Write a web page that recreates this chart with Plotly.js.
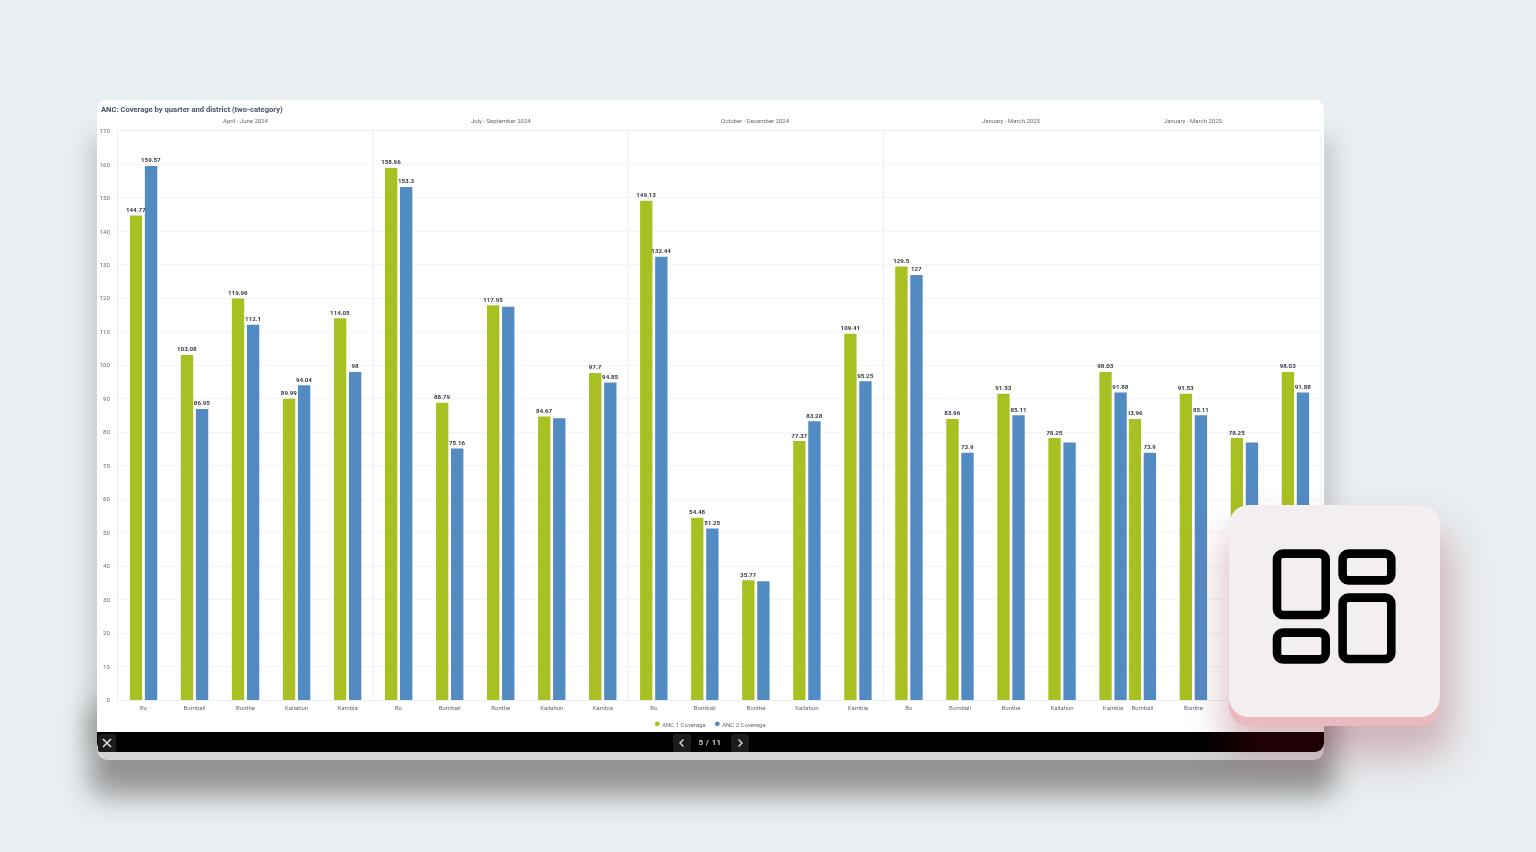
<!DOCTYPE html>
<html><head><meta charset="utf-8">
<script src="https://cdn.plot.ly/plotly-3.0.1.min.js"></script>
<style>
html,body{margin:0;padding:0;width:1536px;height:852px;overflow:hidden;background:#e9eef1;font-family:Roboto,sans-serif}
#softSide{position:absolute;left:88px;top:135px;width:1247px;height:610px;border-radius:14px;background:rgba(135,135,135,.32);filter:blur(10px)}
#softBottom{position:absolute;left:90px;top:705px;width:1245px;height:90px;border-radius:14px;background:rgba(120,120,120,.78);filter:blur(14px)}
#band{position:absolute;left:97px;top:735px;width:1227px;height:25px;border-radius:10px;background:#d2d4d5}
#card{position:absolute;left:97px;top:100px;width:1227px;height:652px;border-radius:9px;background:#fff;overflow:hidden}
#chart{position:absolute;left:0;top:0;width:1536px;height:852px;filter:blur(.45px)}
#bar{position:absolute;left:97px;top:732px;width:1227px;height:20px;background:linear-gradient(90deg,#000 90%,#1f0005 95%);border-radius:0 0 9px 9px;color:#ddd;filter:blur(.25px);z-index:3}
.btn{position:absolute;top:2px;width:18px;height:18px;background:#1c1c1c;border-radius:2px}
.btn svg{position:absolute;left:4px;top:4px}
#pg{position:absolute;left:583px;width:60px;top:0;line-height:21px;text-align:center;font-size:8px;font-weight:500;letter-spacing:.4px;color:#e4e4e4}
#tile{position:absolute;left:1229px;top:505px;width:211px;height:212px;border-radius:20px;background:#f3eff1;box-shadow:0 9px 0 #ebb9c0,3px 32px 38px 8px rgba(170,100,112,.42);z-index:2}
#tile svg{position:absolute;left:0;top:0}
</style></head><body>
<div id="softSide"></div>
<div id="softBottom"></div>
<div id="band"></div>
<div id="card"></div>
<div id="chart"></div>
<div id="bar">
 <div class="btn" style="left:1px"><svg width="10" height="10"><path d="M1 1L9 9M9 1L1 9" stroke="#ddd" stroke-width="1.6"/></svg></div>
 <div class="btn" style="left:576px"><svg width="10" height="10"><path d="M6.5 1.5L3 5L6.5 8.5" stroke="#ddd" stroke-width="1.4" fill="none"/></svg></div>
 <div id="pg">5 / 11</div>
 <div class="btn" style="left:634px"><svg width="10" height="10"><path d="M3.5 1.5L7 5L3.5 8.5" stroke="#ddd" stroke-width="1.4" fill="none"/></svg></div>
</div>
<div id="tile"><svg width="211" height="212" fill="none" stroke="#000" stroke-width="8.6">
 <rect x="48" y="48.6" width="48.7" height="61.4" rx="6"/>
 <rect x="113.6" y="48.6" width="48.7" height="26.8" rx="6"/>
 <rect x="113.6" y="92.6" width="48.7" height="61.4" rx="6"/>
 <rect x="48" y="127.6" width="48.7" height="26.8" rx="6"/>
</svg></div>
<script>
const chartTitle = "ANC: Coverage by quarter and district (two-category)";
const seriesNames = ["ANC 1 Coverage", "ANC 2 Coverage"];
const districts = ["Bo", "Bombali", "Bonthe", "Kailahun", "Kambia"];
const quarters = ["April - June 2024", "July - September 2024", "October - December 2024", "January - March 2025"];
const lastQuarter = "January - March 2025";
const lastDistricts = ["Bombali", "Bonthe", "Kailahun", "Kambia"];
const anc1 = [144.77,103.08,119.96,89.99,114.05, 158.96,88.79,117.95,84.67,97.7, 149.13,54.48,35.77,77.37,109.41, 129.5,83.96,91.53,78.25,98.03];
const anc2 = [159.57,86.95,112.1,94.04,98, 153.3,75.16,117.5,84.2,94.85, 132.44,51.25,35.5,83.28,95.25, 127,73.9,85.11,76.9,91.88];
const anc1Last = [83.96,91.53,78.25,98.03];
const anc2Last = [73.9,85.11,76.9,91.88];
const anc2Unlabelled = [7,8,12,18];
const anc2LastUnlabelled = [2];
const yTicks = [0,10,20,30,40,50,60,70,80,90,100,110,120,130,140,150,160,170];

const GREEN="#a9c022", BLUE="#528ac2", TXT="#626a76", LBL="#343b46", GRID="#f3f6f9", EDGE="#e8eef5";
const W=1536,H=852, L=118, R=1321.5, T=131, B=700;
const slot=51.05, main=districts.length*quarters.length;
const plotW=R-L;
const xA=[...Array(main).keys()];
const tickA=xA.map(i=>districts[i%districts.length]);
const clipPx=1129, lastCentre=1142.8;
const x2Start=-(lastCentre-clipPx)/slot, x2End=x2Start+(R-clipPx)/slot;
const xB=lastDistricts.map((_,i)=>i);
const fmt=(v,i,skip)=>skip.includes(i)?"":String(v);
const barBase={type:"bar",textposition:"outside",cliponaxis:true,constraintext:"none",
  textfont:{family:"Roboto",size:6.2,color:LBL,weight:700},hoverinfo:"y+name",showlegend:false};
const traces=[
 {...barBase,name:seriesNames[0],x:xA,y:anc1,text:anc1.map(v=>String(v)),marker:{color:GREEN},xaxis:"x",yaxis:"y"},
 {...barBase,name:seriesNames[1],x:xA,y:anc2,text:anc2.map((v,i)=>fmt(v,i,anc2Unlabelled)),marker:{color:BLUE},xaxis:"x",yaxis:"y"},
 {...barBase,name:seriesNames[0],x:xB,y:anc1Last,text:anc1Last.map(v=>String(v)),marker:{color:GREEN},xaxis:"x2",yaxis:"y"},
 {...barBase,name:seriesNames[1],x:xB,y:anc2Last,text:anc2Last.map((v,i)=>fmt(v,i,anc2LastUnlabelled)),marker:{color:BLUE},xaxis:"x2",yaxis:"y"}
];
const tickFont={family:"Roboto",size:6,color:TXT};
const py=y=>(B-y)/(B-T);
const annotations=[];
quarters.forEach((q,i)=>annotations.push({text:q,xref:"x",x:i*5+2,yref:"paper",y:py(121),yanchor:"middle",showarrow:false,font:tickFont}));
annotations.push({text:lastQuarter,xref:"x2",x:1,yref:"paper",y:py(121),yanchor:"middle",showarrow:false,font:tickFont});
const legendMark=c=>`<span style="color:${c};font-size:11px">●</span>`;
annotations.push({text:`${legendMark(GREEN)} ${seriesNames[0]}`,xref:"paper",x:(680.5-L)/plotW,yref:"paper",y:py(723.5),yanchor:"middle",showarrow:false,font:tickFont});
annotations.push({text:`${legendMark(BLUE)} ${seriesNames[1]}`,xref:"paper",x:(740.5-L)/plotW,yref:"paper",y:py(723.5),yanchor:"middle",showarrow:false,font:tickFont});
const shapes=[
 ...[4.5,9.5,14.5].map(v=>({type:"line",xref:"x",x0:v,x1:v,yref:"paper",y0:0,y1:1,line:{color:EDGE,width:1},layer:"below"})),
 {type:"line",xref:"paper",x0:1,x1:1,yref:"paper",y0:0,y1:1,line:{color:EDGE,width:1},layer:"below"}
];
const layout={
 width:W,height:H,paper_bgcolor:"rgba(0,0,0,0)",plot_bgcolor:"rgba(0,0,0,0)",
 margin:{l:L,r:W-R,t:T,b:H-B,pad:0},
 title:{text:chartTitle,xref:"container",x:101/W,xanchor:"left",yref:"container",y:1-109/H,yanchor:"middle",font:{family:"Roboto",size:7.6,color:"#46546a",weight:700}},
 showlegend:false,barmode:"group",bargap:0.41,bargroupgap:0.18,
 xaxis:{domain:[0,main*slot/plotW],range:[-0.5,main-0.5],tickmode:"array",tickvals:xA,ticktext:tickA,tickangle:0,tickfont:tickFont,ticks:"outside",ticklen:2,tickcolor:"rgba(0,0,0,0)",showgrid:false,showline:true,linecolor:EDGE,linewidth:1,mirror:true,zeroline:false,anchor:"y"},
 xaxis2:{domain:[(clipPx-L)/plotW,1],range:[x2Start,x2End],tickmode:"array",tickvals:xB,ticktext:lastDistricts,tickangle:0,tickfont:tickFont,ticks:"outside",ticklen:2,tickcolor:"rgba(0,0,0,0)",showgrid:false,showline:true,linecolor:EDGE,linewidth:1,mirror:true,zeroline:false,anchor:"y"},
 yaxis:{range:[0,170],tickmode:"array",tickvals:yTicks,tickfont:tickFont,ticks:"outside",ticklen:6,tickcolor:"rgba(0,0,0,0)",gridcolor:GRID,gridwidth:1,showline:true,linecolor:EDGE,linewidth:1,zeroline:false,anchor:"x"},
 annotations,shapes
};
Plotly.newPlot("chart",traces,layout,{displayModeBar:false,staticPlot:true}).then(gd=>{
 gd.querySelectorAll(".bartext").forEach(t=>{
  const cur=t.getAttribute("transform")||"";
  t.setAttribute("transform","translate(0,1.5) "+cur);
 });
});
</script>
</body></html>
